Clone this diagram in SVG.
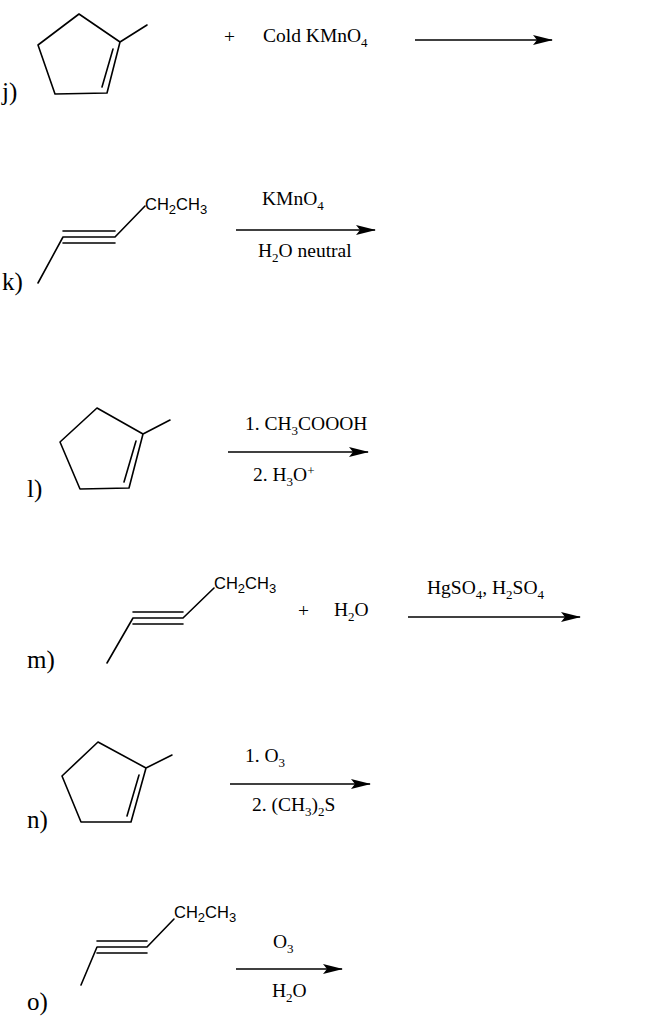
<svg xmlns="http://www.w3.org/2000/svg" width="666" height="1024" viewBox="0 0 666 1024">
<style>
.b{stroke:#000;stroke-width:1.6;fill:none;stroke-linecap:round;stroke-linejoin:round}
.a{stroke:#000;stroke-width:1.4;fill:none}
.s{font-family:"Liberation Serif",serif;font-size:19.5px}
.f{font-family:"Liberation Sans",sans-serif;font-size:16.5px}
.l{font-family:"Liberation Serif",serif;font-size:25px}
.sub{font-size:13px}
</style>
<defs><marker id="ar" markerWidth="20" markerHeight="10" refX="19" refY="5" orient="auto" markerUnits="userSpaceOnUse"><path d="M0,0 L20,5 L0,10 L4,5Z" fill="#000"/></marker></defs>
<rect width="666" height="1024" fill="#fff"/>
<g id="j">
<path class="b" d="M79,14 L120,42 L107,93 L55,94 L38,45 Z M120,42 L147,25 M113,49 L102,87"/>
<text class="l" x="2" y="100">j)</text>
<text class="s" x="224" y="43">+</text>
<text class="s" x="263" y="42">Cold KMnO<tspan class="sub" dy="5">4</tspan></text>
</g>
<g id="k">
<path class="b" d="M38,283 L63,237 L115,237 L145,206 M63,231 L115,231 M63,243 L115,243"/>
<text class="f" x="145" y="210">CH<tspan class="sub" dy="4">2</tspan><tspan dy="-4">CH</tspan><tspan class="sub" dy="4">3</tspan></text>
<text class="l" x="2" y="290">k)</text>
<text class="s" x="262" y="205">KMnO<tspan class="sub" dy="5">4</tspan></text>
<text class="s" x="258" y="257">H<tspan class="sub" dy="5">2</tspan><tspan dy="-5">O neutral</tspan></text>
</g>
<g id="l">
<path class="b" d="M97,408 L143,434 L129,488 L80,489 L60,442 Z M143,434 L170,420 M136,441 L124,482"/>
<text class="l" x="27" y="497">l)</text>
<text class="s" x="245" y="430">1. CH<tspan class="sub" dy="5">3</tspan><tspan dy="-5">COOOH</tspan></text>
<text class="s" x="253" y="481">2. H<tspan class="sub" dy="5">3</tspan><tspan dy="-5">O</tspan><tspan class="sub" dy="-6">+</tspan></text>
</g>
<g id="m">
<path class="b" d="M107,663 L133,618 L183,618 L214,588 M133,612 L183,612 M133,624 L183,624"/>
<text class="f" x="214" y="589">CH<tspan class="sub" dy="4">2</tspan><tspan dy="-4">CH</tspan><tspan class="sub" dy="4">3</tspan></text>
<text class="l" x="27" y="668">m)</text>
<text class="s" x="298" y="617">+</text>
<text class="s" x="334" y="616">H<tspan class="sub" dy="5">2</tspan><tspan dy="-5">O</tspan></text>
<text class="s" x="427" y="594">HgSO<tspan class="sub" dy="5">4</tspan><tspan dy="-5">, H</tspan><tspan class="sub" dy="5">2</tspan><tspan dy="-5">SO</tspan><tspan class="sub" dy="5">4</tspan></text>
</g>
<g id="n">
<path class="b" d="M98,742 L146,768 L131,822 L81,822 L62,776 Z M146,768 L172,755 M139,775 L127,816"/>
<text class="l" x="27" y="828">n)</text>
<text class="s" x="245" y="762">1. O<tspan class="sub" dy="5">3</tspan></text>
<text class="s" x="252" y="811">2. (CH<tspan class="sub" dy="5">3</tspan><tspan dy="-5">)</tspan><tspan class="sub" dy="5">2</tspan><tspan dy="-5">S</tspan></text>
</g>
<g id="o">
<path class="b" d="M81,985 L97,947 L147,947 L174,919 M97,941 L147,941 M97,953 L147,953"/>
<text class="f" x="174" y="918">CH<tspan class="sub" dy="4">2</tspan><tspan dy="-4">CH</tspan><tspan class="sub" dy="4">3</tspan></text>
<text class="l" x="27" y="1010">o)</text>
<text class="s" x="273" y="948">O<tspan class="sub" dy="5">3</tspan></text>
<text class="s" x="272" y="997">H<tspan class="sub" dy="5">2</tspan><tspan dy="-5">O</tspan></text>
</g>
<g id="connectors">
<line class="a" x1="415" y1="40" x2="552" y2="40" marker-end="url(#ar)"/>
<line class="a" x1="236" y1="230" x2="375" y2="230" marker-end="url(#ar)"/>
<line class="a" x1="228" y1="452" x2="368" y2="452" marker-end="url(#ar)"/>
<line class="a" x1="408" y1="617" x2="580" y2="617" marker-end="url(#ar)"/>
<line class="a" x1="230" y1="784" x2="370" y2="784" marker-end="url(#ar)"/>
<line class="a" x1="236" y1="969" x2="342" y2="969" marker-end="url(#ar)"/>
</g>
</svg>
